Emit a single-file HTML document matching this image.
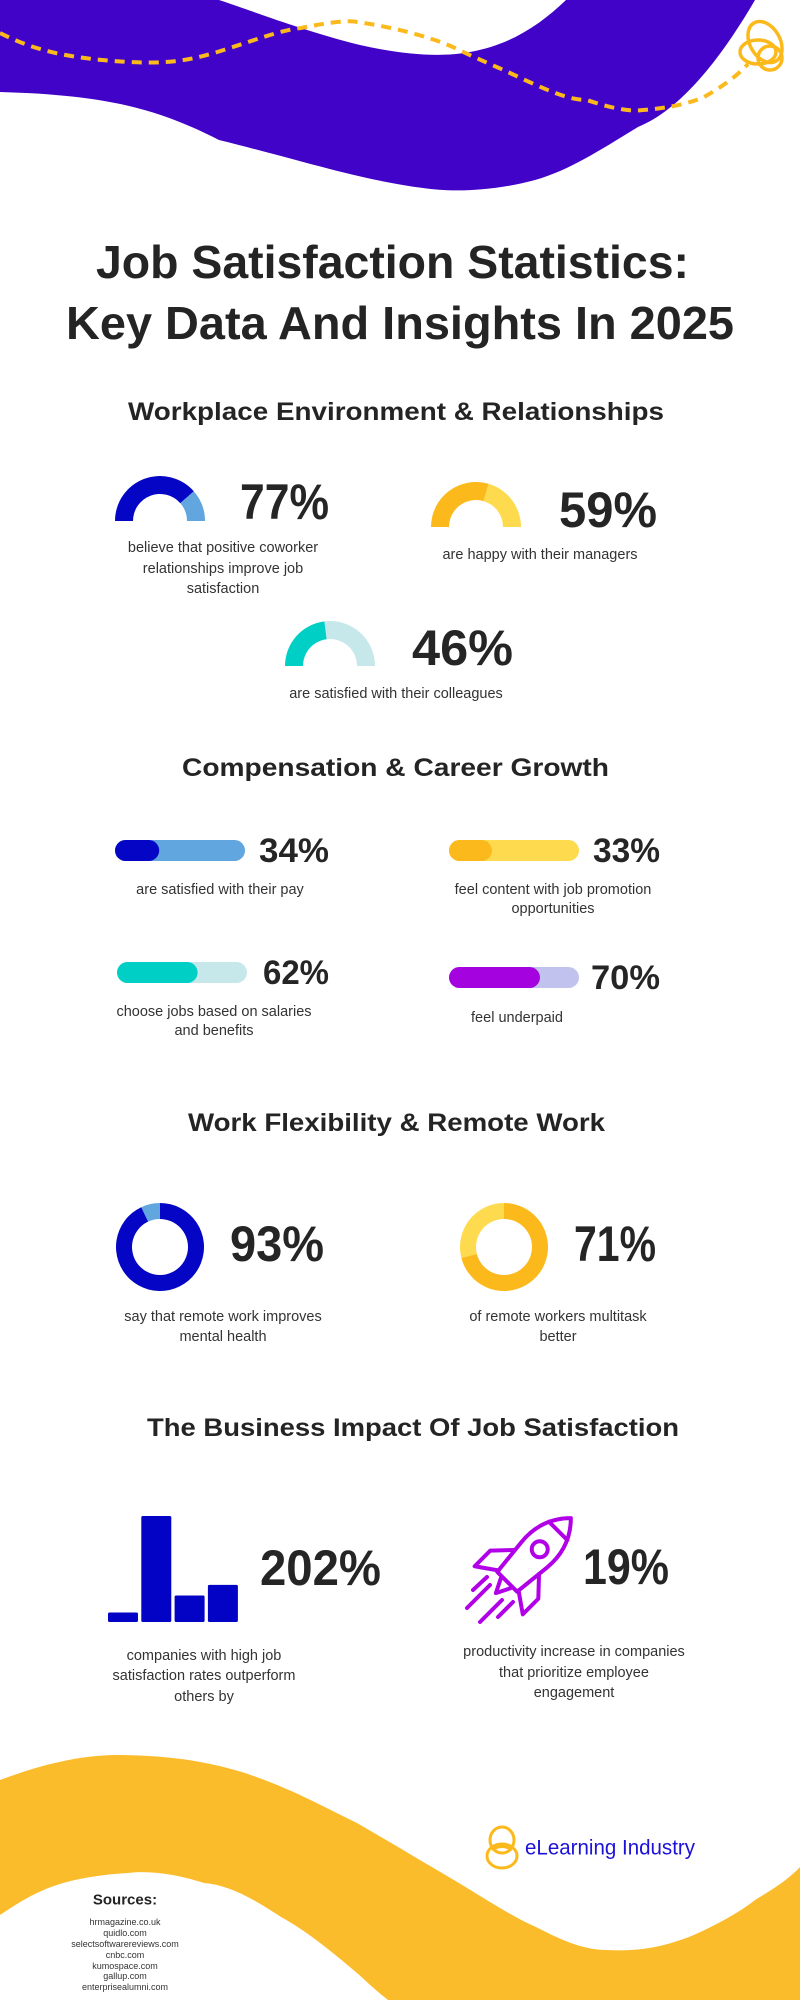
<!DOCTYPE html>
<html><head><meta charset="utf-8"><title>Job Satisfaction Statistics</title>
<style>
html,body{margin:0;padding:0;background:#fff;}
svg{display:block;}
text{font-family:"Liberation Sans",sans-serif;}
.h{font-weight:bold;fill:#242424;}
.b{font-size:14.5px;fill:#333;}
.n{font-weight:bold;fill:#252525;}
</style></head>
<body>
<svg id="s" width="800" height="2000" viewBox="0 0 800 2000" xmlns="http://www.w3.org/2000/svg">
  <path fill="#4203c9" d="M0,0 L219,0 C250,10 300,30 360,45 C400,54 439,58 470,52 C510,45 540,25 566,0 L755,0 C720,60 680,110 638,127 C600,150 570,170 535,180 C490,192 450,192 423,188 C360,180 300,160 219,140 C160,110 110,95 0,92 Z"/>
  <path fill="none" stroke="#fbb91c" stroke-width="4" stroke-dasharray="10,7" d="M0,33 C30,48 60,58 128,62 C170,64 190,60 214,53 C250,42 280,30 301,28 C330,22 350,20 357,22 C400,28 440,40 459,50 C480,60 495,66 510,73 C550,92 570,100 587,100 C610,108 630,112 643,110 C670,108 690,103 704,97 C720,88 735,78 748,64"/>
  <g fill="none" stroke="#fbb91c" stroke-width="3.5">
    <ellipse cx="765" cy="42" rx="15" ry="22" transform="rotate(-30 765 42)"/>
    <ellipse cx="758" cy="52" rx="18" ry="12"/>
    <circle cx="770" cy="58" r="12"/>
  </g>

  <text class="h" x="96" y="262" font-size="46" dominant-baseline="central" textLength="593" lengthAdjust="spacingAndGlyphs">Job Satisfaction Statistics:</text>
  <text class="h" x="66" y="323" font-size="46" dominant-baseline="central" textLength="668" lengthAdjust="spacingAndGlyphs">Key Data And Insights In 2025</text>

  <text class="h" x="128" y="412" font-size="25" dominant-baseline="central" textLength="536" lengthAdjust="spacingAndGlyphs">Workplace Environment &amp; Relationships</text>
  <text class="h" x="182" y="768" font-size="25" dominant-baseline="central" textLength="427" lengthAdjust="spacingAndGlyphs">Compensation &amp; Career Growth</text>
  <text class="h" x="188" y="1123" font-size="25" dominant-baseline="central" textLength="417" lengthAdjust="spacingAndGlyphs">Work Flexibility &amp; Remote Work</text>
  <text class="h" x="147" y="1428" font-size="25" dominant-baseline="central" textLength="532" lengthAdjust="spacingAndGlyphs">The Business Impact Of Job Satisfaction</text>

  <g id="charts"></g>

  <text class="b" text-anchor="middle"><tspan x="223" y="552">believe that positive coworker</tspan><tspan x="223" y="573">relationships improve job</tspan><tspan x="223" y="593">satisfaction</tspan></text>
  <text class="b" x="540" y="559" text-anchor="middle">are happy with their managers</text>
  <text class="b" x="396" y="698" text-anchor="middle">are satisfied with their colleagues</text>
  <text class="b" x="220" y="894" text-anchor="middle">are satisfied with their pay</text>
  <text class="b" text-anchor="middle"><tspan x="553" y="894">feel content with job promotion</tspan><tspan x="553" y="913">opportunities</tspan></text>
  <text class="b" text-anchor="middle"><tspan x="214" y="1016">choose jobs based on salaries</tspan><tspan x="214" y="1035">and benefits</tspan></text>
  <text class="b" x="517" y="1022" text-anchor="middle">feel underpaid</text>
  <text class="b" text-anchor="middle"><tspan x="223" y="1321">say that remote work improves</tspan><tspan x="223" y="1341">mental health</tspan></text>
  <text class="b" text-anchor="middle"><tspan x="558" y="1321">of remote workers multitask</tspan><tspan x="558" y="1341">better</tspan></text>
  <text class="b" text-anchor="middle"><tspan x="204" y="1660">companies with high job</tspan><tspan x="204" y="1680">satisfaction rates outperform</tspan><tspan x="204" y="1701">others by</tspan></text>
  <text class="b" text-anchor="middle"><tspan x="574" y="1656">productivity increase in companies</tspan><tspan x="574" y="1677">that prioritize employee</tspan><tspan x="574" y="1697">engagement</tspan></text>

  <g fill="none" stroke="#b100e8" stroke-width="4" stroke-linecap="round" stroke-linejoin="round">
    <g transform="translate(527,1562) rotate(45)">
      <path d="M0,-62 C14,-48 20,-30 18,-10 L14,28 L-14,28 L-18,-10 C-20,-30 -14,-48 0,-62 Z"/>
      <path d="M-13,-44 L13,-44"/>
      <circle cx="0" cy="-18" r="8"/>
      <path d="M-17,0 L-34,18 L-34,40 L-14,26"/>
      <path d="M17,0 L34,18 L34,40 L14,26"/>
      <path d="M-7,30 L0,44 L7,30"/>
    </g>
    <path d="M473,1590 L487,1577"/>
    <path d="M467,1608 L490,1585"/>
    <path d="M480,1622 L502,1600"/>
    <path d="M498,1617 L513,1602"/>
  </g>

  <path fill="#fbbc2b" d="M0,1780 C40,1765 80,1755 117,1755 C170,1755 210,1762 245,1773 C290,1788 320,1805 357,1823 C395,1845 430,1866 459,1883 C490,1902 515,1918 536,1927 C565,1942 585,1950 607,1950 C640,1952 665,1946 689,1937 C715,1926 740,1912 755,1900 C775,1888 790,1878 800,1867 L800,2000 L388,2000 C375,1990 365,1980 357,1973 C330,1950 305,1930 281,1917 C255,1900 230,1885 204,1883 C180,1875 150,1870 128,1873 C95,1875 70,1880 51,1887 C30,1895 15,1905 0,1915 Z"/>

  <g>
    <g fill="none" stroke="#fbb91c" stroke-width="3">
      <ellipse cx="502" cy="1840" rx="12" ry="13"/>
      <ellipse cx="502" cy="1856" rx="15" ry="12"/>
      <path d="M492,1850 Q502,1843 512,1850"/>
    </g>
    <text x="525" y="1848" font-size="21" fill="#1d12d6" dominant-baseline="central" textLength="170" lengthAdjust="spacingAndGlyphs">eLearning Industry</text>
  </g>

  <text class="h" x="125" y="1900" font-size="15" text-anchor="middle" dominant-baseline="central">Sources:</text>
  <text font-size="9" fill="#333" text-anchor="middle">
    <tspan x="125" y="1925">hrmagazine.co.uk</tspan><tspan x="125" y="1936">quidlo.com</tspan><tspan x="125" y="1947">selectsoftwarereviews.com</tspan><tspan x="125" y="1958">cnbc.com</tspan><tspan x="125" y="1969">kumospace.com</tspan><tspan x="125" y="1979">gallup.com</tspan><tspan x="125" y="1990">enterprisealumni.com</tspan>
  </text>
</svg>

<script>
// ---- data ----
const gaugeValues = [77, 59, 46];
const gaugeLabels = ["77%", "59%", "46%"];
const barValues = [34, 33, 62, 70];
const barLabels = ["34%", "33%", "62%", "70%"];
const donutValues = [93, 71];
const donutLabels = ["93%", "71%"];
const impactValues = [9, 100, 25, 35];
const impactLabel = ["202%"];
const rocketLabel = ["19%"];

// ---- layout ----
const NS = "http://www.w3.org/2000/svg";
const root = document.getElementById("charts");
const gaugeLayout = [
  {cx:160, cy:521, dark:"#0505c5", light:"#62a6e0", tx:240, ty:502, tw:89},
  {cx:476, cy:527, dark:"#fbb91c", light:"#fedb4e", tx:559, ty:510, tw:98},
  {cx:330, cy:666, dark:"#00cfc6", light:"#c6e8ea", tx:412, ty:648, tw:101}
];
const barLayout = [
  {x:115, y:840, dark:"#0505c5", light:"#62a6e0", tx:259, ty:851, tw:70},
  {x:449, y:840, dark:"#fbb91c", light:"#fedb4e", tx:593, ty:851, tw:67},
  {x:117, y:962, dark:"#00cfc6", light:"#c6e8ea", tx:263, ty:973, tw:66},
  {x:449, y:967, dark:"#a502e0", light:"#c2c2ef", tx:591, ty:978, tw:69}
];
const donutLayout = [
  {cx:160, cy:1247, dark:"#0505c5", light:"#62a6e0", tx:230, ty:1244, tw:94},
  {cx:504, cy:1247, dark:"#fbb91c", light:"#fedb4e", tx:574, ty:1244, tw:82}
];
const BAR_W = 130, BAR_H = 21, GR = 45, Gr = 27, DR = 44, Dr = 28;

function mk(tag, attrs){
  const e = document.createElementNS(NS, tag);
  for (const k in attrs) e.setAttribute(k, attrs[k]);
  return e;
}
function bigNum(txt, x, y, w, size){
  const t = mk("text", {x:x, y:y, "font-size":size, "class":"n", "dominant-baseline":"central", textLength:w, lengthAdjust:"spacingAndGlyphs"});
  t.textContent = txt;
  return t;
}
function annulusArc(cx, cy, R, r, a0, a1){
  const p = (rad, a) => [cx + rad*Math.cos(a), cy - rad*Math.sin(a)];
  const large = Math.abs(a1 - a0) > Math.PI ? 1 : 0;
  const sweep = a1 < a0 ? 1 : 0;
  const [x0,y0] = p(R,a0), [x1,y1] = p(R,a1), [x2,y2] = p(r,a1), [x3,y3] = p(r,a0);
  return `M${x0},${y0} A${R},${R} 0 ${large} ${sweep} ${x1},${y1} L${x2},${y2} A${r},${r} 0 ${large} ${1-sweep} ${x3},${y3} Z`;
}

// gauges
gaugeValues.forEach((v, i) => {
  const L = gaugeLayout[i];
  const g = mk("g", {});
  
  
  const split = Math.PI - (v/100)*Math.PI;
  const bg = mk("path", {d: annulusArc(L.cx, L.cy, GR, Gr, split, 0), fill: L.light});
  
  
  const fg = mk("path", {d: annulusArc(L.cx, L.cy, GR, Gr, Math.PI, split), fill: L.dark});
  
  
  g.appendChild(bg); g.appendChild(fg);
  const t = bigNum(gaugeLabels[i], L.tx, L.ty, L.tw, 50);
  
  
  g.appendChild(t);
  root.appendChild(g);
});

// progress bars
barValues.forEach((v, i) => {
  const L = barLayout[i];
  const g = mk("g", {});
  
  
  const track = mk("rect", {x:L.x, y:L.y, width:BAR_W, height:BAR_H, rx:BAR_H/2, fill:L.light});
  
  
  const fill = mk("rect", {x:L.x, y:L.y, width:Math.max(BAR_H, BAR_W*v/100), height:BAR_H, rx:BAR_H/2, fill:L.dark});
  
  
  g.appendChild(track); g.appendChild(fill);
  const t = bigNum(barLabels[i], L.tx, L.ty, L.tw, 34);
  
  
  g.appendChild(t);
  root.appendChild(g);
});

// donuts
donutValues.forEach((v, i) => {
  const L = donutLayout[i];
  const g = mk("g", {});
  
  
  const top = Math.PI/2;
  const end = top - (v/100)*2*Math.PI;
  const bg = mk("path", {d: annulusArc(L.cx, L.cy, DR, Dr, end, end - (1 - v/100)*2*Math.PI + 0.0001), fill: L.light});
  
  
  const fg = mk("path", {d: annulusArc(L.cx, L.cy, DR, Dr, top, end), fill: L.dark});
  
  
  g.appendChild(bg); g.appendChild(fg);
  const t = bigNum(donutLabels[i], L.tx, L.ty, L.tw, 50);
  
  
  g.appendChild(t);
  root.appendChild(g);
});

// impact bar chart
const baseY = 1622, barX0 = 108, barStep = 33.3, barW = 30;
const yScale = v => v * 1.06;
const ig = mk("g", {});


impactValues.forEach((v, i) => {
  const h = yScale(v);
  const r = mk("rect", {x: barX0 + i*barStep, y: baseY - h, width: barW, height: h, rx: 1.5, fill: "#0303c6"});
  
  
  ig.appendChild(r);
});
const it = bigNum(impactLabel[0], 260, 1568, 121, 50);


ig.appendChild(it);
root.appendChild(ig);

const rt = bigNum(rocketLabel[0], 583, 1567, 86, 50);


root.appendChild(rt);
</script>
</body></html>
